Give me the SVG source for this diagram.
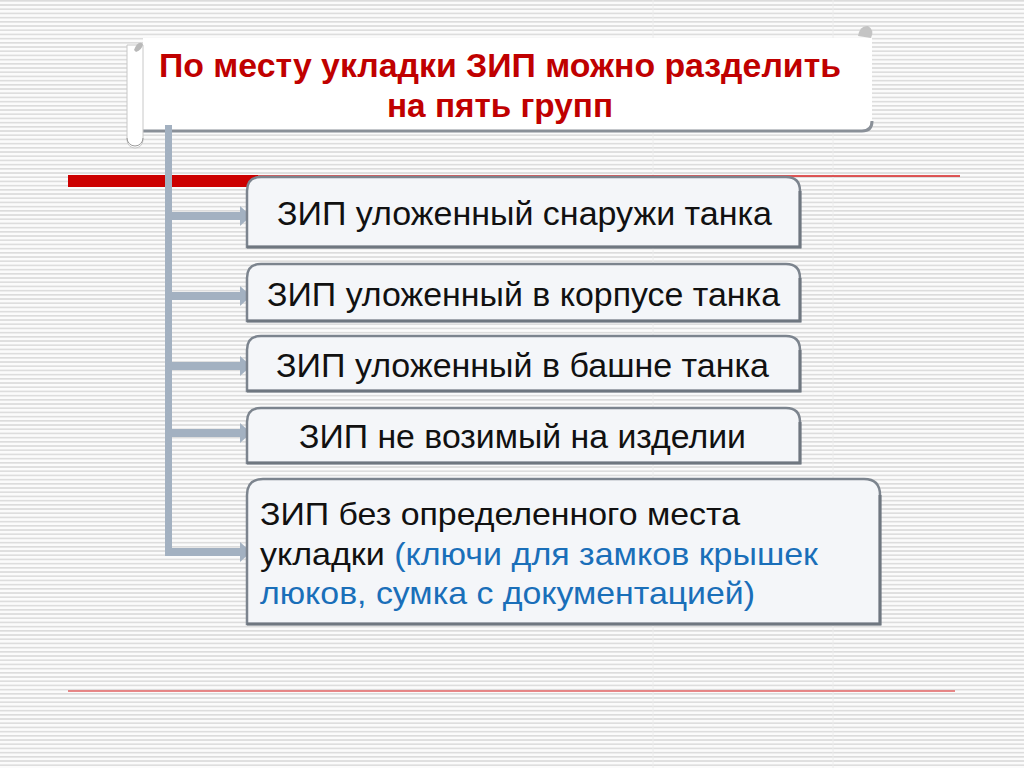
<svg xmlns="http://www.w3.org/2000/svg" width="1024" height="768" viewBox="0 0 1024 768">
<defs>
<pattern id="stripes" x="0" y="0" width="8" height="4.2" patternUnits="userSpaceOnUse">
<rect x="0" y="0" width="8" height="4.2" fill="#fbfbfb"/>
<rect x="0" y="0" width="8" height="1.6" fill="#dcdcdc"/>
</pattern>
<style>
.box{fill:#f4f6f9;stroke:#7c848e;stroke-width:2.5}
.shadow{fill:none;stroke:#6f7780;stroke-width:3}
.lbl{font-family:"Liberation Sans",Arial,sans-serif;font-size:34px;fill:#111}
.lbl5{font-family:"Liberation Sans",Arial,sans-serif;font-size:31.6px;fill:#111}
.blue{fill:#1a6fb9}
.title{font-family:"Liberation Sans",Arial,sans-serif;font-size:34px;font-weight:bold;fill:#c00000}
.conn{fill:#a3b1c1}
</style>
</defs>
<rect width="1024" height="768" fill="url(#stripes)"/>
<line x1="653" y1="0" x2="653" y2="768" stroke="#ececec" stroke-width="1"/>
<line x1="833" y1="0" x2="833" y2="768" stroke="#ececec" stroke-width="1"/>

<!-- decorative red lines -->
<line x1="68" y1="176" x2="960" y2="176" stroke="#d62020" stroke-width="1.5"/>
<rect x="68" y="175" width="190" height="12" fill="#cc0000"/>
<line x1="68" y1="691" x2="955" y2="691" stroke="#e06060" stroke-width="1.5"/>

<!-- title scroll -->
<g id="title">
<path d="M143,38 H872 V121 Q872,131 862,131 H143 Z" fill="#ffffff"/>
<path d="M143,131 H862 Q872,131 872,121" fill="none" stroke="#8a9098" stroke-width="3"/>
<path d="M127,45 H143 V140 A8,8 0 0 1 127,140 Z" fill="#ffffff" stroke="#c8c8c8" stroke-width="1"/>
<path d="M134,50 Q138,40 143,44 Q142,50 136,52 Z" fill="#b9b9b9"/>
<path d="M127,138 A8,8 0 0 0 143,138" fill="none" stroke="#9a9a9a" stroke-width="1"/>
<path d="M858,36 Q860,25 868,26 Q875,30 871,38 Z" fill="#c4c4c4"/>
<text class="title" x="159" y="77" textLength="682" lengthAdjust="spacingAndGlyphs">По месту укладки ЗИП можно разделить</text>
<text class="title" x="387" y="117" textLength="226" lengthAdjust="spacingAndGlyphs">на пять групп</text>
</g>

<!-- connectors -->
<g id="connectors">
<rect class="conn" x="165" y="125" width="7" height="431"/>
<rect class="conn" x="171" y="212" width="70" height="8"/>
<polygon class="conn" points="240,206 251,216 240,226"/>
<rect class="conn" x="171" y="292" width="70" height="8"/>
<polygon class="conn" points="240,286 251,296 240,306"/>
<rect class="conn" x="171" y="362" width="70" height="8"/>
<polygon class="conn" points="240,356 251,366 240,376"/>
<rect class="conn" x="171" y="429" width="70" height="8"/>
<polygon class="conn" points="240,423 251,433 240,443"/>
<rect class="conn" x="165" y="548" width="76" height="8"/>
<polygon class="conn" points="240,542 251,552 240,562"/>
</g>

<g id="box1">
<path class="box" d="M247,247 V191 Q247,177 261,177 H786 Q800,177 800,191 V247 Z"/>
<path class="shadow" d="M800,191 V247 H247"/>
<text class="lbl" x="277" y="225" textLength="495" lengthAdjust="spacingAndGlyphs">ЗИП уложенный снаружи танка</text>
</g>
<g id="box2">
<path class="box" d="M247,321 V278 Q247,264 261,264 H786 Q800,264 800,278 V321 Z"/>
<path class="shadow" d="M800,278 V321 H247"/>
<text class="lbl" x="267" y="306" textLength="513" lengthAdjust="spacingAndGlyphs">ЗИП уложенный в корпусе танка</text>
</g>
<g id="box3">
<path class="box" d="M247,391 V350 Q247,336 261,336 H786 Q800,336 800,350 V391 Z"/>
<path class="shadow" d="M800,350 V391 H247"/>
<text class="lbl" x="276" y="377" textLength="493" lengthAdjust="spacingAndGlyphs">ЗИП уложенный в башне танка</text>
</g>
<g id="box4">
<path class="box" d="M247,463 V422 Q247,408 261,408 H786 Q800,408 800,422 V463 Z"/>
<path class="shadow" d="M800,422 V463 H247"/>
<text class="lbl" x="299" y="448" textLength="447" lengthAdjust="spacingAndGlyphs">ЗИП не возимый на изделии</text>
</g>
<g id="box5">
<path class="box" d="M247,624 V495 Q247,479 263,479 H864 Q880,479 880,495 V624 Z"/>
<path class="shadow" d="M880,495 V624 H247"/>
<text class="lbl5" x="260" y="525" textLength="480" lengthAdjust="spacingAndGlyphs">ЗИП без определенного места</text>
<text class="lbl5" x="260" y="565" textLength="558" lengthAdjust="spacingAndGlyphs">укладки <tspan class="blue">(ключи для замков крышек</tspan></text>
<text class="lbl5 blue" x="260" y="604" textLength="495" lengthAdjust="spacingAndGlyphs">люков, сумка с документацией)</text>
</g>
</svg>
